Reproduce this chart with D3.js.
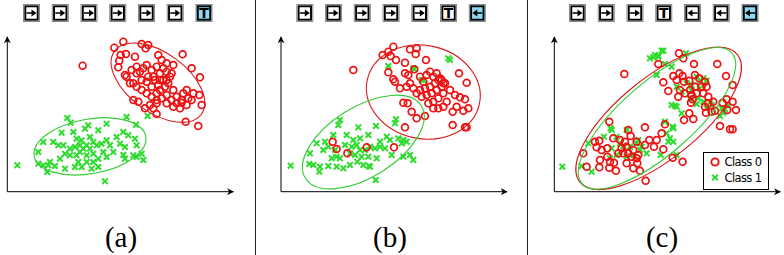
<!DOCTYPE html>
<html>
<head>
<meta charset="utf-8">
<script src="https://cdn.jsdelivr.net/npm/d3@7"></script>
<style>
  html, body { margin: 0; padding: 0; background: #fff; }
  svg { display: block; }
</style>
</head>
<body>
<svg id="chart" width="784" height="255"></svg>
<script>
// ---- data (units: 3 per pixel, origin at the axes corner, y up) ----
const panelKeys = ['a', 'b', 'c'];
const panelLabels = ['(a)', '(b)', '(c)'];
const panelIcons = [
    ['R', 'R', 'R', 'R', 'R', 'R', 'T*'],
    ['R', 'R', 'R', 'R', 'R', 'T', 'L*'],
    ['R', 'R', 'R', 'T', 'L', 'L', 'L*'],
];

const redA = [
    [321,432],[348,450],[340,410],[356,413],[336,393],[333,373],[353,350],[383,405],[403,443],[423,440],
    [415,430],[453,410],[526,412],[553,370],[578,343],[226,378],[368,325],[378,275],[393,270],[413,250],
    [448,233],[438,250],[535,210],[573,197],[583,260],[576,290],[558,295],[553,275],[538,260],[518,250],
    [498,255],[478,265],[398,360],[408,370],[418,380],[433,365],[448,375],[458,355],[468,370],[478,360],
    [488,345],[493,355],[483,325],[473,315],[458,305],[448,295],[433,315],[418,330],[403,335],[388,315],
    [403,305],[418,295],[433,285],[448,275],[463,280],[478,290],[498,305],[508,285],[523,275],[508,265],
    [493,275],[528,295],[543,280],[458,335],[468,335],[443,335],[438,345],[423,345],[478,335],[453,320],
    [388,355],[373,365],[388,375],[478,385],[463,395],[498,380],[538,305],[378,325],[448,265],[428,260],
    [523,267],[358,345]
];
const greenA = [
    [180,221],[190,207],[298,204],[358,224],[386,201],[421,227],[243,199],[233,189],[273,184],[163,177],
    [138,149],[153,139],[108,149],[93,119],[198,179],[208,159],[223,154],[248,164],[258,149],[238,139],
    [218,139],[203,134],[228,129],[248,129],[268,139],[283,144],[298,154],[308,139],[328,164],[348,179],
    [363,169],[338,144],[353,134],[383,159],[388,139],[378,109],[388,104],[353,99],[298,104],[273,99],
    [258,89],[273,74],[253,69],[223,74],[203,74],[173,69],[143,77],[123,79],[108,79],[93,84],
    [120,59],[128,89],[173,114],[188,109],[208,109],[238,109],[258,114],[218,119],[188,129],[168,139],
    [293,31],[30,79],[403,114],[213,89],[238,89],[288,119],[318,119],[158,99],[408,95],[348,110]
];

const redB = [
    [305,410],[322,420],[337,435],[329,407],[345,395],[372,387],[387,427],[407,430],[404,413],[435,395],
    [217,365],[322,358],[337,337],[342,330],[357,310],[372,355],[382,350],[400,367],[387,325],[377,315],
    [367,267],[380,265],[392,240],[407,220],[372,193],[432,227],[417,345],[427,330],[437,350],[447,360],
    [457,345],[467,355],[477,340],[462,325],[447,315],[432,310],[417,305],[407,295],[422,285],[437,290],
    [452,295],[467,305],[482,315],[487,295],[472,280],[457,270],[442,265],[457,250],[472,250],[487,255],
    [497,270],[482,335],[492,325],[397,310],[534,355],[557,327],[522,290],[537,283],[552,277],[562,250],
    [527,255],[515,240],[547,243],[515,200],[552,193],[557,193],[507,305],[487,325],[472,335],
    [155,150],[167,128],[199,115],[257,133],[339,133]
];
const greenB = [
    [29,78],[177,215],[172,200],[232,193],[285,197],[345,217],[342,205],[197,170],[157,170],[132,150],
    [107,145],[87,115],[217,155],[237,160],[262,170],[297,150],[317,165],[327,155],[352,160],[362,145],
    [367,155],[377,150],[192,140],[212,135],[227,140],[237,125],[252,125],[267,135],[282,130],[297,135],
    [312,130],[207,115],[222,110],[242,105],[262,105],[167,105],[152,100],[177,100],[287,100],[332,110],
    [367,105],[387,110],[397,95],[229,90],[247,80],[267,75],[187,70],[167,75],[142,77],[117,75],
    [97,80],[85,83],[115,60],[264,77],[284,35],[207,80],[127,125],[142,135],[162,125],
    [507,395],[397,370],[427,335],[322,377],[400,367],[502,400],[422,335]
];

const redC = [
    [374,415],[312,383],[387,400],[419,383],[489,383],[515,347],[535,320],[210,353],[327,328],[342,302],
    [357,347],[375,355],[385,347],[367,335],[389,330],[405,333],[422,350],[435,340],[452,330],[457,315],
    [442,315],[422,315],[407,305],[392,295],[377,305],[372,285],[412,290],[427,295],[447,295],[462,285],
    [477,270],[462,265],[452,255],[472,240],[482,243],[455,237],[415,277],[410,267],[505,267],[517,277],
    [535,270],[519,245],[545,245],[497,197],[527,187],[535,187],[389,215],[417,218],[405,235],[165,210],
    [87,115],[97,75],[122,150],[135,153],[127,133],[142,125],[159,130],[137,95],[159,105],[167,90],
    [179,87],[165,72],[185,63],[135,73],[177,160],[197,155],[212,150],[222,185],[217,135],[202,130],
    [192,115],[207,115],[222,115],[237,125],[232,105],[247,100],[252,110],[217,85],[237,70],[257,63],
    [249,85],[272,193],[272,140],[285,155],[307,155],[322,175],[332,202],[299,135],[327,127],[355,102],
    [385,90],[274,33],[247,150],[229,167]
];
const greenC = [
    [24,75],[82,77],[112,60],[102,145],[149,165],[169,190],[187,165],[172,130],[197,145],[207,137],
    [227,135],[247,145],[257,125],[237,110],[187,110],[217,105],[167,100],[252,155],[262,135],[277,115],
    [319,110],[332,210],[357,190],[337,175],[347,160],[357,150],[342,150],[367,110],[287,400],[302,410],
    [312,405],[327,423],[332,383],[307,350],[352,260],[367,255],[382,235],[395,415],[427,345],[447,340],
    [397,325],[412,320],[437,310],[432,280],[447,270],[457,250],[502,250],[507,237],[497,227],[472,260],
    [367,315],[382,300],[297,403],[312,408],[322,423],[352,375],[362,258],[437,333],[457,333],[412,303],
    [407,278],[427,263],[467,268],[512,248],[522,258],[355,195],[217,185],[172,185]
];

// ellipses: [cx, cy, semi-major, semi-minor, angle in degrees (counter-clockwise)]
const redEllipses = [[452,327,161,89,-36], [427,299,172,140,-12], [313,220,304,121,39]];
const greenEllipses = [[248,136,170,82,10], [247,149,205,105,32], [308,220,298,108,41]];

const redPoints = [redA, redB, redC];
const greenPoints = [greenA, greenB, greenC];

// ---- layout ----
const panelOrigins = [7.3, 281, 554.3];
const iconStarts = [23, 296.3, 569];
const labelCenters = [121, 390, 662];
const dividers = [255.5, 527.5];

const RED = '#ee1111';
const GREEN = '#2edc2e';
const ICON_BLUE = '#8fd9f2';

const svg = d3.select('#chart');

svg.append('defs').append('marker')
    .attr('id', 'arrow')
    .attr('viewBox', '0 0 10 10')
    .attr('refX', 9).attr('refY', 5)
    .attr('markerWidth', 7).attr('markerHeight', 7)
    .attr('markerUnits', 'userSpaceOnUse')
    .attr('orient', 'auto')
    .append('path').attr('d', 'M0,0L10,5L0,10L3,5Z').attr('fill', '#000');

// divider lines between panels
svg.selectAll('line.divider').data(dividers).enter().append('line')
    .attr('class', 'divider')
    .attr('x1', d => d).attr('x2', d => d)
    .attr('y1', 0).attr('y2', 255)
    .attr('stroke', '#222').attr('stroke-width', 1);

const crossPath = 'M-2.8,-2.8L2.8,2.8M-2.8,2.8L2.8,-2.8';

panelKeys.forEach((key, i) => {
    const ox = panelOrigins[i];
    const x = d3.scaleLinear().domain([0, 678]).range([ox, ox + 226]);
    const y = d3.scaleLinear().domain([0, 455]).range([191.7, 40]);
    const g = svg.append('g').attr('class', 'panel panel-' + key);

    // axes (no ticks)
    g.append('line')
        .attr('x1', x(0)).attr('y1', y(0)).attr('x2', x(0)).attr('y2', y(464))
        .attr('stroke', '#000').attr('stroke-width', 1).attr('marker-end', 'url(#arrow)');
    g.append('line')
        .attr('x1', x(0)).attr('y1', y(0)).attr('x2', x(678)).attr('y2', y(0))
        .attr('stroke', '#000').attr('stroke-width', 1).attr('marker-end', 'url(#arrow)');

    // Class 1
    g.selectAll('path.c1').data(greenPoints[i]).enter().append('path')
        .attr('class', 'c1')
        .attr('d', crossPath)
        .attr('transform', d => `translate(${x(d[0])},${y(d[1])})`)
        .attr('stroke', GREEN).attr('stroke-width', 2).attr('fill', 'none');

    // Class 0
    g.selectAll('circle.c0').data(redPoints[i]).enter().append('circle')
        .attr('class', 'c0')
        .attr('cx', d => x(d[0])).attr('cy', d => y(d[1]))
        .attr('r', 3.4)
        .attr('fill', 'none').attr('stroke', RED).attr('stroke-width', 1.7);

    // fitted gaussians
    const drawEllipse = (e, color) => {
        g.append('ellipse')
            .attr('cx', x(e[0])).attr('cy', y(e[1]))
            .attr('rx', x(e[2]) - x(0)).attr('ry', x(e[3]) - x(0))
            .attr('transform', `rotate(${-e[4]},${x(e[0])},${y(e[1])})`)
            .attr('fill', 'none').attr('stroke', color).attr('stroke-width', 1.1);
    };
    drawEllipse(redEllipses[i], '#dd1a1a');
    drawEllipse(greenEllipses[i], '#33cc33');

    // icon strip
    const icons = g.selectAll('g.icon').data(panelIcons[i]).enter().append('g')
        .attr('class', 'icon')
        .attr('transform', (d, j) => `translate(${iconStarts[i] + j * 28.75},4)`);
    icons.append('rect')
        .attr('x', 0.5).attr('y', 0.5).attr('width', 16).attr('height', 17)
        .attr('fill', d => d.endsWith('*') ? ICON_BLUE : '#fff')
        .attr('stroke', '#888').attr('stroke-width', 1);
    icons.append('rect')
        .attr('x', 2.3).attr('y', 2.3).attr('width', 12.4).attr('height', 13.4)
        .attr('fill', 'none').attr('stroke', '#000').attr('stroke-width', 1.9);
    icons.filter(d => d[0] === 'R').append('path')
        .attr('d', 'M3.5,9H10')
        .attr('fill', 'none').attr('stroke', '#000').attr('stroke-width', 1.5);
    icons.filter(d => d[0] === 'R').append('path')
        .attr('d', 'M8.5,5.5L13.5,9L8.5,12.5Z').attr('fill', '#000');
    icons.filter(d => d[0] === 'L').append('path')
        .attr('d', 'M13.5,9H7')
        .attr('fill', 'none').attr('stroke', '#000').attr('stroke-width', 1.5);
    icons.filter(d => d[0] === 'L').append('path')
        .attr('d', 'M8.5,5.5L3.5,9L8.5,12.5Z').attr('fill', '#000');
    icons.filter(d => d[0] === 'T').append('text')
        .attr('x', 8.5).attr('y', 14.2)
        .attr('text-anchor', 'middle')
        .style('font-family', 'DejaVu Sans, sans-serif')
        .style('font-weight', 'bold').style('font-size', '14px')
        .text('T');

    // panel label
    svg.append('text')
        .attr('x', labelCenters[i]).attr('y', 247)
        .attr('text-anchor', 'middle')
        .style('font-family', 'Liberation Serif, serif')
        .style('font-size', '29px')
        .text(panelLabels[i]);
});

// legend in panel (c)
const legend = svg.append('g').attr('class', 'legend').attr('transform', 'translate(703.5,152.5)');
legend.append('rect').attr('width', 65).attr('height', 37)
    .attr('fill', '#fff').attr('stroke', '#000').attr('stroke-width', 1);
const legendItems = [{label: 'Class 0', type: 'circle'}, {label: 'Class 1', type: 'cross'}];
const li = legend.selectAll('g.item').data(legendItems).enter().append('g')
    .attr('class', 'item')
    .attr('transform', (d, j) => `translate(11.5,${9.5 + j * 15.5})`);
li.filter(d => d.type === 'circle').append('circle')
    .attr('r', 3.7).attr('fill', 'none').attr('stroke', RED).attr('stroke-width', 1.8);
li.filter(d => d.type === 'cross').append('path')
    .attr('d', crossPath).attr('stroke', GREEN).attr('stroke-width', 2);
li.append('text')
    .attr('x', 9.5).attr('y', 4.3)
    .style('font-family', 'DejaVu Sans, sans-serif')
    .style('font-size', '11.5px').style('letter-spacing', '-0.6px')
    .text(d => d.label);
</script>
</body>
</html>
